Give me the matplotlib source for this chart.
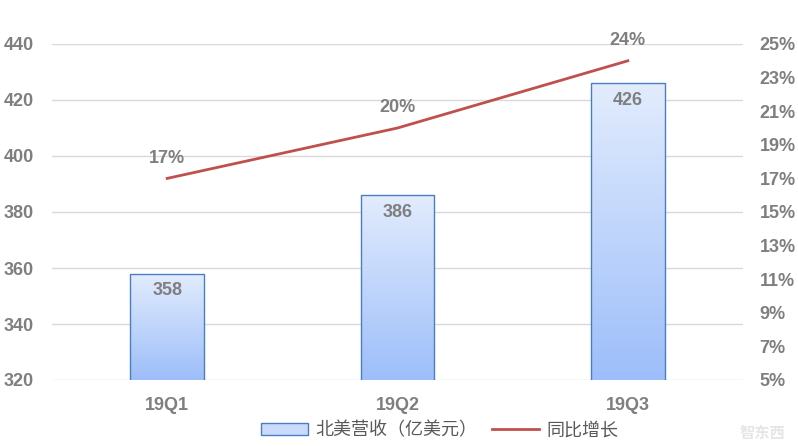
import matplotlib.pyplot as plt
import numpy as np
from matplotlib.colors import LinearSegmentedColormap

quarters = ["19Q1", "19Q2", "19Q3"]
revenue = [358, 386, 426]
growth = [17, 20, 24]
left_ticks = [320, 340, 360, 380, 400, 420, 440]
right_ticks = [5, 7, 9, 11, 13, 15, 17, 19, 21, 23, 25]

plt.rcParams["font.family"] = ["Liberation Sans", "Noto Sans CJK SC", "DejaVu Sans"]
TXT = "#7F7F7F"
FS = 13

fig = plt.figure(figsize=(7.98, 4.46), dpi=100)
ax = fig.add_axes([52 / 798, 66 / 446, 691 / 798, 336 / 446])
ax2 = ax.twinx()

x = np.arange(len(quarters))
bw = 0.32
cmap = LinearSegmentedColormap.from_list("bar", ["#9DBEFA", "#E2ECFD"])
grad = np.linspace(0, 1, 256).reshape(-1, 1)
bars = ax.bar(x, revenue, bw, bottom=0, color="none", edgecolor="#4A7EC4",
              linewidth=1.0, zorder=3, label="北美营收（亿美元）")
for b in bars:
    x0, y0 = b.get_x(), 320
    x1, y1 = x0 + b.get_width(), b.get_height()
    im = ax.imshow(grad, cmap=cmap, origin="lower", aspect="auto",
                   extent=[x0, x1, y0, y1], zorder=2)
    im.set_clip_path(b)
for xi, v in zip(x, revenue):
    ax.text(xi, v - 3, str(v), ha="center", va="top", fontsize=FS,
            fontweight="bold", color=TXT, zorder=5)

ax.set_xlim(-0.5, len(quarters) - 0.5)
ax.set_ylim(320, 440)
ax.set_yticks(left_ticks)
ax.set_xticks(x)
ax.set_xticklabels(quarters)
ax.grid(True, axis="y", color="#D9D9D9", linewidth=1.0, zorder=0)
ax.set_axisbelow(True)
for s in ax.spines.values():
    s.set_visible(False)
for s in ax2.spines.values():
    s.set_visible(False)
ax.tick_params(length=0, labelsize=FS, labelcolor=TXT, pad=13)
ax.tick_params(axis="x", pad=12)
for t in ax.get_xticklabels() + ax.get_yticklabels():
    t.set_fontweight("bold")

line, = ax2.plot(x, growth, color="#C0504D", linewidth=2.0, zorder=4,
                 label="同比增长")
for xi, g in zip(x, growth):
    ax2.text(xi, g + 0.7, f"{g}%", ha="center", va="bottom", fontsize=FS,
             fontweight="bold", color=TXT)
ax2.set_ylim(5, 25)
ax2.set_yticks(right_ticks)
ax2.set_yticklabels([f"{t}%" for t in right_ticks])
ax2.tick_params(length=0, labelsize=FS, labelcolor=TXT, pad=12)
for t in ax2.get_yticklabels():
    t.set_fontweight("bold")

leg = fig.legend(handles=[bars, line], loc="center", bbox_to_anchor=(0.551, 0.035),
                 ncol=2, frameon=False, handlelength=2.6, columnspacing=0.8,
                 handletextpad=0.4,
                 prop={"family": ["Noto Sans CJK SC"], "size": 13})
leg.legend_handles[0].set_facecolor("#C9DAFB")
for t in leg.get_texts():
    t.set_color("#595959")

fig.text(0.955, 0.03, "智东西", ha="center", va="center", fontsize=11,
         color="#E6E6E6", family=["Noto Sans CJK SC"], fontweight="bold")

fig.savefig("out.png", dpi=100)
